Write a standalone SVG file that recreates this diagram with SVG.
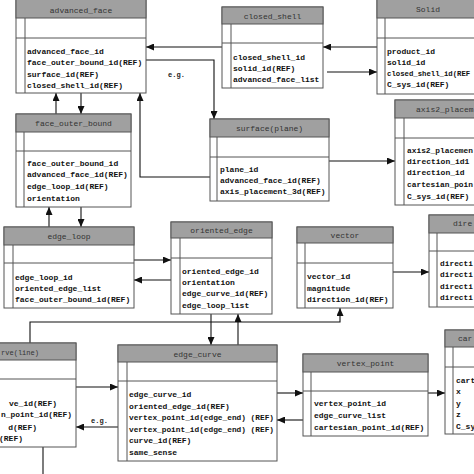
<svg xmlns="http://www.w3.org/2000/svg" width="474" height="474" viewBox="0 0 474 474">
<style>
.bx{fill:#fff;stroke:#555;stroke-width:1}
.hd{fill:#a0a0a0;stroke:#555;stroke-width:1}
.ln{stroke:#555;stroke-width:1}
.t{font-family:"Liberation Mono",monospace;font-size:8px;font-weight:bold;fill:#111}
.h{font-family:"Liberation Mono",monospace;font-size:8px;fill:#333;text-anchor:middle}
.hs{font-family:"Liberation Mono",monospace;font-size:8px;fill:#333}
.c{stroke:#111;fill:none;stroke-width:1.1}
.a{marker-end:url(#ar)}
.eg{font-family:"Liberation Mono",monospace;font-size:7px;font-weight:bold;fill:#222;text-anchor:middle}
</style>
<defs>
<marker id="ar" markerUnits="userSpaceOnUse" markerWidth="8" markerHeight="7" refX="8" refY="3.5" orient="auto">
<path d="M0,0 L8,3.5 L0,7 z" fill="#111"/>
</marker>
</defs>
<rect width="474" height="474" fill="#fff"/>

<g id="connectors">
<path class="c a" d="M222,47 H146"/>
<path class="c a" d="M146,60 H214 V119"/>
<path class="c a" d="M377,47 H323"/>
<path class="c a" d="M327,72 H377"/>
<path class="c a" d="M56,114 V93"/>
<path class="c a" d="M81,93 V114"/>
<path class="c a" d="M210,177 H140 V93"/>
<path class="c a" d="M329,161 H395"/>
<path class="c a" d="M49,227 V207"/>
<path class="c a" d="M81,207 V227"/>
<path class="c a" d="M134,260 H171"/>
<path class="c a" d="M171,280 H134"/>
<path class="c a" d="M211,314 V345"/>
<path class="c a" d="M238,345 V314"/>
<path class="c a" d="M393,272 H429"/>
<path class="c a" d="M30,343 V322 H340 V308"/>
<path class="c a" d="M76,387 H118"/>
<path class="c a" d="M118,427 H76"/>
<path class="c a" d="M277,393 H303"/>
<path class="c a" d="M303,420 H277"/>
<path class="c a" d="M428,393 H445"/>
<path class="c" d="M43,447 V474"/>
<text class="eg" x="176.5" y="77">e.g.</text>
<text class="eg" x="99.5" y="423">e.g.</text>
</g>

<g id="advanced_face">
<rect class="bx" x="16" y="-1" width="130" height="94"/>
<rect class="hd" x="16" y="-1" width="130" height="19"/>
<line class="ln" x1="16" y1="38" x2="146" y2="38"/>
<line class="ln" x1="25" y1="18" x2="25" y2="93"/>
<text class="h" x="81" y="13">advanced_face</text>
<text class="t" x="27" y="54">advanced_face_id</text>
<text class="t" x="27" y="65">face_outer_bound_id(REF)</text>
<text class="t" x="27" y="76.5">surface_id(REF)</text>
<text class="t" x="27" y="88">closed_shell_id(REF)</text>
</g>

<g id="closed_shell">
<rect class="bx" x="222" y="7" width="101" height="81"/>
<rect class="hd" x="222" y="7" width="101" height="17"/>
<line class="ln" x1="222" y1="43" x2="323" y2="43"/>
<line class="ln" x1="231" y1="24" x2="231" y2="88"/>
<text class="h" x="272.5" y="18.5">closed_shell</text>
<text class="t" x="233" y="60">closed_shell_id</text>
<text class="t" x="233" y="71">solid_id(REF)</text>
<text class="t" x="233" y="82">advanced_face_list</text>
</g>

<g id="solid">
<rect class="bx" x="377" y="-1" width="103" height="95"/>
<rect class="hd" x="377" y="-1" width="103" height="19"/>
<line class="ln" x1="377" y1="38" x2="480" y2="38"/>
<line class="ln" x1="385" y1="18" x2="385" y2="94"/>
<text class="h" x="428" y="12">Solid</text>
<text class="t" x="387" y="54">product_id</text>
<text class="t" x="387" y="65">solid_id</text>
<text class="t" x="387" y="76" style="font-size:7.3px">closed_shell_id(REF</text>
<text class="t" x="387" y="87">C_sys_id(REF)</text>
</g>

<g id="face_outer_bound">
<rect class="bx" x="16" y="114" width="115" height="93"/>
<rect class="hd" x="16" y="114" width="115" height="18"/>
<line class="ln" x1="16" y1="151" x2="131" y2="151"/>
<line class="ln" x1="24" y1="132" x2="24" y2="207"/>
<text class="h" x="73.5" y="126">face_outer_bound</text>
<text class="t" x="27" y="166">face_outer_bound_id</text>
<text class="t" x="27" y="177">advanced_face_id(REF)</text>
<text class="t" x="27" y="189">edge_loop_id(REF)</text>
<text class="t" x="27" y="201">orientation</text>
</g>

<g id="surface_plane">
<rect class="bx" x="210" y="119" width="119" height="82"/>
<rect class="hd" x="210" y="119" width="119" height="18"/>
<line class="ln" x1="210" y1="157" x2="329" y2="157"/>
<line class="ln" x1="217" y1="137" x2="217" y2="201"/>
<text class="h" x="269.5" y="131">surface(plane)</text>
<text class="t" x="220" y="172">plane_id</text>
<text class="t" x="220" y="183">advanced_face_id(REF)</text>
<text class="t" x="220" y="194">axis_placement_3d(REF)</text>
</g>

<g id="axis2_placement">
<rect class="bx" x="395" y="100" width="85" height="105"/>
<rect class="hd" x="395" y="100" width="85" height="18"/>
<line class="ln" x1="395" y1="138" x2="480" y2="138"/>
<line class="ln" x1="404" y1="118" x2="404" y2="205"/>
<text class="hs" x="416" y="112">axis2_placem</text>
<text class="t" x="407" y="153" textLength="66" lengthAdjust="spacingAndGlyphs">axis2_placemen</text>
<text class="t" x="407" y="164">direction_id1</text>
<text class="t" x="407" y="175">direction_id</text>
<text class="t" x="407" y="187" textLength="66" lengthAdjust="spacingAndGlyphs">cartesian_poin</text>
<text class="t" x="407" y="199">C_sys_id(REF)</text>
</g>

<g id="edge_loop">
<rect class="bx" x="4" y="227" width="130" height="81"/>
<rect class="hd" x="4" y="227" width="130" height="18"/>
<line class="ln" x1="4" y1="263" x2="134" y2="263"/>
<line class="ln" x1="13" y1="245" x2="13" y2="308"/>
<text class="h" x="69" y="239">edge_loop</text>
<text class="t" x="15" y="280">edge_loop_id</text>
<text class="t" x="15" y="291">oriented_edge_list</text>
<text class="t" x="15" y="302">face_outer_bound_id(REF)</text>
</g>

<g id="oriented_edge">
<rect class="bx" x="171" y="222" width="101" height="92"/>
<rect class="hd" x="171" y="222" width="101" height="16"/>
<line class="ln" x1="171" y1="258" x2="272" y2="258"/>
<line class="ln" x1="180" y1="238" x2="180" y2="314"/>
<text class="h" x="221.5" y="233">oriented_edge</text>
<text class="t" x="182" y="274">oriented_edge_id</text>
<text class="t" x="182" y="285">orientation</text>
<text class="t" x="182" y="296">edge_curve_id(REF)</text>
<text class="t" x="182" y="308">edge_loop_list</text>
</g>

<g id="vector">
<rect class="bx" x="297" y="227" width="96" height="81"/>
<rect class="hd" x="297" y="227" width="96" height="16"/>
<line class="ln" x1="297" y1="263" x2="393" y2="263"/>
<line class="ln" x1="305" y1="243" x2="305" y2="308"/>
<text class="h" x="345" y="238">vector</text>
<text class="t" x="307" y="279">vector_id</text>
<text class="t" x="307" y="291">magnitude</text>
<text class="t" x="307" y="302">direction_id(REF)</text>
</g>

<g id="direction">
<rect class="bx" x="429" y="215" width="51" height="92"/>
<rect class="hd" x="429" y="215" width="51" height="18"/>
<line class="ln" x1="429" y1="251" x2="480" y2="251"/>
<line class="ln" x1="437" y1="233" x2="437" y2="307"/>
<text class="hs" x="453" y="226">dire</text>
<text class="t" x="440" y="266" textLength="33" lengthAdjust="spacingAndGlyphs">directi</text>
<text class="t" x="440" y="277" textLength="33" lengthAdjust="spacingAndGlyphs">directi</text>
<text class="t" x="440" y="289" textLength="33" lengthAdjust="spacingAndGlyphs">directi</text>
<text class="t" x="440" y="300" textLength="33" lengthAdjust="spacingAndGlyphs">directi</text>
</g>

<g id="curve_line">
<rect class="bx" x="-2" y="343" width="78" height="104"/>
<rect class="hd" x="-2" y="343" width="78" height="17"/>
<line class="ln" x1="-2" y1="379" x2="76" y2="379"/>
<text class="hs" x="1" y="355" textLength="38" lengthAdjust="spacingAndGlyphs">rve(line)</text>
<text class="t" x="57" y="406" text-anchor="end">ve_id(REF)</text>
<text class="t" x="1" y="417" textLength="71" lengthAdjust="spacingAndGlyphs">n_point_id(REF)</text>
<text class="t" x="37" y="430" text-anchor="end">d(REF)</text>
<text class="t" x="23" y="441" text-anchor="end">(REF)</text>
</g>

<g id="edge_curve">
<rect class="bx" x="118" y="345" width="159" height="116"/>
<rect class="hd" x="118" y="345" width="159" height="17"/>
<line class="ln" x1="118" y1="381" x2="277" y2="381"/>
<line class="ln" x1="127" y1="362" x2="127" y2="461"/>
<text class="h" x="197.5" y="357">edge_curve</text>
<text class="t" x="129" y="397">edge_curve_id</text>
<text class="t" x="129" y="409">oriented_edge_id(REF)</text>
<text class="t" x="129" y="420" textLength="145" lengthAdjust="spacingAndGlyphs">vertex_point_id(edge_end) (REF)</text>
<text class="t" x="129" y="432" textLength="145" lengthAdjust="spacingAndGlyphs">vertex_point_id(edge_end) (REF)</text>
<text class="t" x="129" y="443">curve_id(REF)</text>
<text class="t" x="129" y="455">same_sense</text>
</g>

<g id="vertex_point">
<rect class="bx" x="303" y="354" width="125" height="82"/>
<rect class="hd" x="303" y="354" width="125" height="18"/>
<line class="ln" x1="303" y1="391" x2="428" y2="391"/>
<line class="ln" x1="311" y1="372" x2="311" y2="436"/>
<text class="h" x="365.5" y="366">vertex_point</text>
<text class="t" x="314" y="406">vertex_point_id</text>
<text class="t" x="314" y="418">edge_curve_list</text>
<text class="t" x="314" y="430">cartesian_point_id(REF)</text>
</g>

<g id="cartesian_point">
<rect class="bx" x="445" y="330" width="35" height="104"/>
<rect class="hd" x="445" y="330" width="35" height="17"/>
<line class="ln" x1="445" y1="367" x2="480" y2="367"/>
<line class="ln" x1="453" y1="347" x2="453" y2="434"/>
<text class="hs" x="458" y="341">car</text>
<text class="t" x="456" y="383">cart</text>
<text class="t" x="456" y="394">x</text>
<text class="t" x="456" y="406">y</text>
<text class="t" x="456" y="417">z</text>
<text class="t" x="456" y="429">C_sy</text>
</g>
</svg>
